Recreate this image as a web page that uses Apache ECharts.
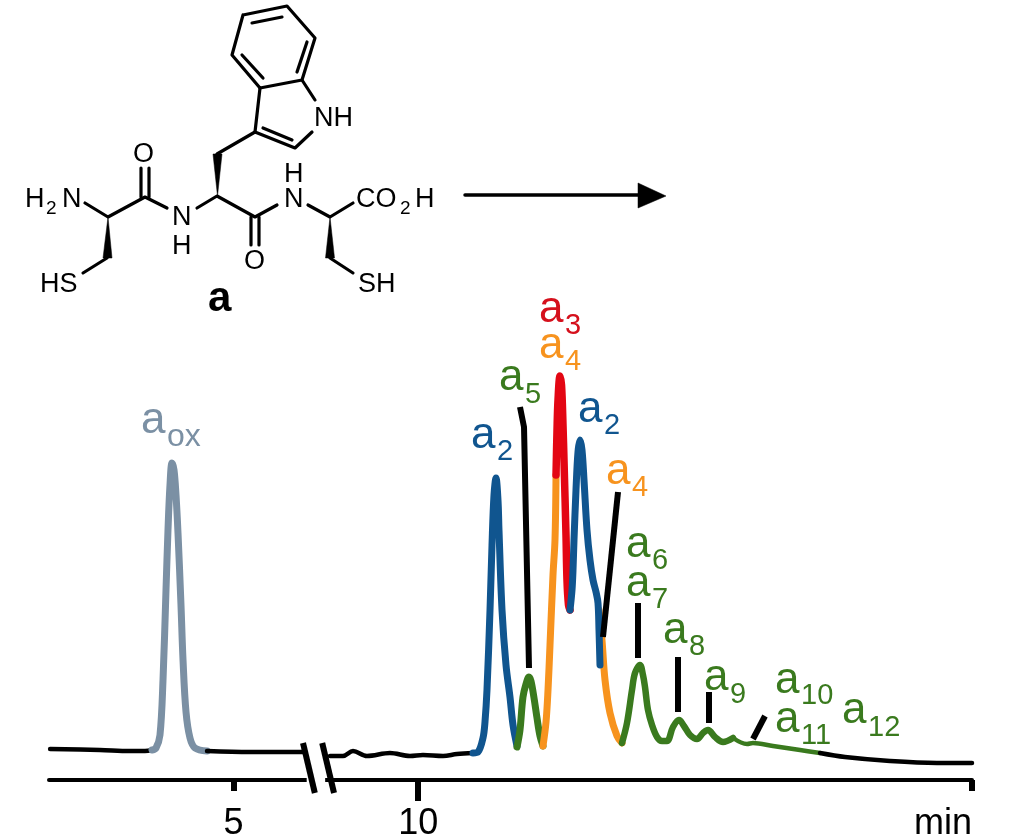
<!DOCTYPE html>
<html><head><meta charset="utf-8">
<style>html,body{margin:0;padding:0;background:#fff}#c{width:1024px;height:837px}</style>
<script src="https://cdn.jsdelivr.net/npm/echarts@6/dist/echarts.min.js"></script>
</head><body><div id="c"></div>
<script>
// Chromatogram values: time (min) and detector signal
const base1T=[0.03,1.38,2.19,2.60,2.79];
const base1V=[31,30,29,29,30];
const oxT=[2.79,2.898,3.006,3.088,3.169,3.223,3.277,3.332,3.386,3.44,3.494,3.575,3.63,3.711,3.819,3.954,4.28];
const oxV=[30,32,45,100,190,250,295,317,310,285,247,175,120,68,42,32,29];
const base2T=[4.28,5.444,6.934];
const base2V=[29,28,28];
const base3T=[7.611,7.963,8.234,8.613,9.236,9.778,10.13,10.672,11.051,11.484];
const base3V=[24,24,29,24,27,24,25,24,26,27];
const a2FirstT=[11.484,11.62,11.755,11.809,11.863,11.945,11.999,12.053,12.107,12.161,12.188,12.27,12.378,12.486,12.568,12.676];
const a2FirstV=[27,28,42,58,90,170,235,285,302,280,250,170,115,83,55,34];
const a5T=[12.676,12.757,12.838,12.92,13.001,13.055,13.137,13.218,13.299,13.38];
const a5V=[33,50,83,96,103,99,82,62,44,34];
const a4RiseT=[13.38,13.462,13.516,13.57,13.651,13.705,13.733];
const a4RiseV=[34,58,90,135,205,240,305];
const a3T=[13.733,13.76,13.787,13.841,13.882,13.922,13.949,14.003,14.03,14.071,14.112];
const a3V=[305,350,380,404,395,355,320,245,200,175,170];
const a4FallT=[14.897,14.978,15.06,15.195,15.385,15.52];
const a4FallV=[170,140,100,67,44,37];
const a2SecondT=[14.112,14.166,14.193,14.22,14.274,14.328,14.383,14.437,14.491,14.572,14.653,14.735,14.816,14.87,14.897,14.924];
const a2SecondV=[170,190,210,240,290,328,340,330,300,250,220,200,188,177,150,115];
const lateT=[15.52,15.655,15.791,15.872,16.007,16.088,16.143,16.224,16.333,16.468,16.603,16.739,16.901,17.064,17.199,17.362,17.552,17.714,17.85,18.04,18.256,18.527];
const lateV=[37,57,90,107,115,105,93,70,55,43,39,39,53,60,54,45,41,47,50,43,38,42];
const tailT=[18.527,18.906,19.068,19.61,20.341,20.883];
const tailV=[42,36,37,34,30,27];
const base4T=[20.883,21.56,22.779,24.052,25];
const base4V=[27,23,19,17,17];
// Leader lines in the same time/signal units
const leadA5T=[12.757,12.866,13.001];   const leadA5V=[373,353,112];
const leadA4T=[15.412,15.005];          const leadA4V=[288,143];
const leadA67T=[15.954,15.954];         const leadA67V=[177,122];
const leadA8T=[17.037,17.037];          const leadA8V=[123,68];
const leadA9T=[17.877,17.877];          const leadA9V=[88,57];
const leadA10T=[19.393,19.068];         const leadA10V=[64,41];
// Axis break marks
const breakGapT=[6.98,7.48];            const breakGapV=[0,0];
const breakAT=[6.88,7.2];               const breakAV=[37,-13];
const breakBT=[7.4,7.72];               const breakBV=[37,-13];
// Ticks
const shortTicks=[5,25];
const longTicks=[10];
const shortTickLabels={5:'5',25:'min'};
const longTickLabels={10:'10'};

const COL={ox:'#7B90A4',blue:'#10558F',red:'#E30613',orange:'#F7931E',green:'#3A7A1E',black:'#000'};
const FONT='"Liberation Sans",Arial,sans-serif';
const zip=(t,v)=>t.map((x,i)=>[x,v[i]]);
const trace=(name,t,v,color,width,z)=>({name,type:'line',data:zip(t,v),smooth:0.35,
  showSymbol:false,symbol:'none',clip:false,z:z||3,animation:false,silent:true,
  lineStyle:{color,width,cap:'round',join:'round'}});
const straight=(name,t,v,color,width,z,cap)=>({name,type:'line',data:zip(t,v),smooth:false,showSymbol:false,
  symbol:'none',clip:false,z:z,animation:false,silent:true,lineStyle:{color,width,cap:cap||'butt',join:'round'}});

const series=[
  trace('baseline',base1T,base1V,COL.black,4.5),
  trace('aox',oxT,oxV,COL.ox,7),
  trace('baseline',base2T,base2V,COL.black,4.5),
  trace('baseline',base3T,base3V,COL.black,4.5),
  trace('a2',a2FirstT,a2FirstV,COL.blue,7),
  trace('a5',a5T,a5V,COL.green,7),
  trace('a4',a4RiseT,a4RiseV,COL.orange,7),
  trace('a4',a4FallT,a4FallV,COL.orange,7),
  trace('a3',a3T,a3V,COL.red,7.5,4),
  trace('a2',a2SecondT,a2SecondV,COL.blue,7,4),
  trace('a6-a9',lateT,lateV,COL.green,6.5),
  trace('a10-a12',tailT,tailV,COL.green,4.5),
  trace('baseline',base4T,base4V,COL.black,4.5),
  straight('leader',leadA5T,leadA5V,COL.black,6,6),
  straight('leader',leadA4T,leadA4V,COL.black,6,6),
  straight('leader',leadA67T,leadA67V,COL.black,6,6),
  straight('leader',leadA8T,leadA8V,COL.black,6,6),
  straight('leader',leadA9T,leadA9V,COL.black,6,6),
  straight('leader',leadA10T,leadA10V,COL.black,6,6),
  straight('gap',breakGapT,breakGapV,'#fff',8,6),
  straight('break',breakAT,breakAV,COL.black,6,7),
  straight('break',breakBT,breakBV,COL.black,6,7)
];

// Annotation text: x = left, y = baseline
function txt(x,y,text,size,color,weight){
  return {type:'text',x:x,y:y-0.28*size,z:20,silent:true,style:{text:text,fill:color||'#000',
    font:(weight||'normal')+' '+size+'px '+FONT,verticalAlign:'middle',align:'left'}};
}
function pk(x,y,sub,color,subY,subSize){
  const a=txt(x-2,y,'a',44,color), s=txt(x+24,subY+1,sub,subSize||29,color);
  return [a,s];
}
const peakLabels=[].concat(
  pk(143,433,'ox',COL.ox,445,32),
  pk(473,448,'2',COL.blue,459),
  pk(501,390,'5',COL.green,402),
  pk(541,322,'3','#D5101C',333),
  pk(541,358,'4',COL.orange,369),
  pk(580,422,'2',COL.blue,433),
  pk(608,484,'4',COL.orange,495),
  pk(628,557,'6',COL.green,568),
  pk(628,596,'7',COL.green,607),
  pk(665,643,'8',COL.green,654),
  pk(706,690,'9',COL.green,702),
  pk(777,693,'10',COL.green,703),
  pk(777,732,'11',COL.green,743),
  pk(844,723,'12',COL.green,735)
);

// Structure drawing of compound a
const pl=(pts,w,closed)=>({type:closed?'polygon':'polyline',z:15,silent:true,shape:{points:pts},
  style:closed?{fill:'#000',stroke:'#000',lineWidth:0.5}:{fill:null,stroke:'#000',lineWidth:w||3.2,lineCap:'round',lineJoin:'round'}});
const bonds=[
  [[243,15],[287,6],[315,38],[302,80],[260,88],[232,55],[243,15]],
  [[252,23],[282,17]],[[307,42],[297,72]],[[263,78],[242,55]],
  [[260,88],[255,132]],[[302,80],[315,100]],[[312,132],[295,148],[255,132]],[[263,128],[292,140]],
  [[255,132],[217,154]],
  [[85,203],[108,217],[145,197],[167,208]],[[141,197],[141,168]],[[149,197],[149,168]],
  [[197,208],[217,196],[255,217],[277,205]],[[251,217],[251,245]],[[259,217],[259,245]],
  [[308,205],[330,217],[353,203]],
  [[107,258],[83,273]],[[330,258],[353,273]]
];
const wedges=[
  [[213,154],[222,154],[217.5,196]],
  [[103,258],[112,258],[108,217]],
  [[325.5,258],[334.5,258],[330,217]]
];
const sT=(x,y,t,size,w)=>txt(x,y,t,size||27,'#000',w);
const structure=[].concat(
  bonds.map(b=>pl(b)),
  wedges.map(w=>pl(w,0,true)),
  [
   sT(314,126,'NH'),
   sT(133,162,'O'),sT(244,269,'O'),
   sT(172,225,'N'),sT(172,254,'H'),
   sT(284,207,'N'),sT(284,182,'H'),
   sT(25,207,'H'),sT(46,214,'2',19),sT(62,207,'N'),
   sT(356,207,'CO'),sT(400,214,'2',19),sT(415,207,'H'),
   sT(40,292,'HS'),sT(358,292,'SH'),
   sT(208,311,'a',42,'bold'),
   pl([[465,195],[642,195]],3.5),
   pl([[638,183],[666,196],[638,208]],0,true)
  ]
);

const xBase={type:'value',min:0,max:25,gridIndex:0,position:'bottom',splitLine:{show:false}};
const option={
  animation:false,backgroundColor:'#fff',
  grid:{left:49,width:923,top:340,height:440,containLabel:false,outerBoundsMode:'none'},
  xAxis:[
    Object.assign({},xBase,{
      axisLine:{show:true,onZero:false,lineStyle:{color:'#000',width:4}},
      axisTick:{show:true,customValues:shortTicks,length:11,inside:false,lineStyle:{color:'#000',width:6}},
      axisLabel:{show:true,customValues:shortTicks,margin:26,alignMaxLabel:'right',
        formatter:v=>shortTickLabels[v]||'',color:'#000',fontFamily:'Liberation Sans',fontSize:36}
    }),
    Object.assign({},xBase,{
      axisLine:{show:false,onZero:false},
      axisTick:{show:true,customValues:longTicks,length:21,lineStyle:{color:'#000',width:6}},
      axisLabel:{show:true,customValues:longTicks,margin:26,
        formatter:v=>longTickLabels[v]||'',color:'#000',fontFamily:'Liberation Sans',fontSize:36}
    })
  ],
  yAxis:{type:'value',min:0,max:440,show:false,splitLine:{show:false}},
  tooltip:{show:false},legend:{show:false},
  series:series,
  graphic:{elements:peakLabels.concat(structure)}
};
const chart=echarts.init(document.getElementById('c'),null,{renderer:'canvas',width:1024,height:837});
chart.setOption(option);
</script></body></html>
